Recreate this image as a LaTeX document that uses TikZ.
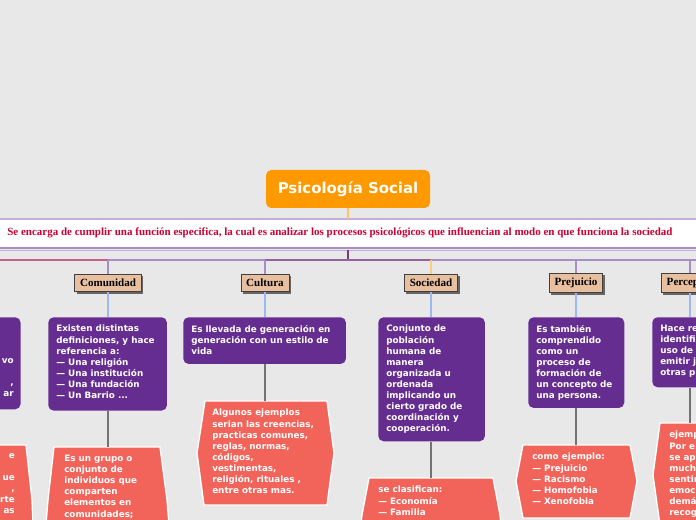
\documentclass[tikz,border=0pt]{standalone}
\usepackage{fontspec}
\setmainfont{DejaVu Sans}
\newfontfamily\serifb{Liberation Serif}
\usetikzlibrary{shadows}
\definecolor{bg}{HTML}{E8E8E8}
\definecolor{orng}{HTML}{FF9900}
\definecolor{purp}{HTML}{662D91}
\definecolor{coral}{HTML}{F2635A}
\definecolor{tan}{HTML}{E8C0A0}
\definecolor{lav}{HTML}{A88CC8}
\definecolor{lblue}{HTML}{9DB8F2}
\definecolor{dred}{HTML}{CC0033}
\definecolor{dpurp}{HTML}{7A3A80}
\tikzset{
 x=0.75pt,y=-0.75pt,
 pbox/.style={draw=none,fill=purp,rounded corners=4pt,anchor=north west,inner sep=0pt},
 ptext/.style={anchor=north west,inner sep=0pt,align=left,text=white,font=\fontsize{6.6}{8.3}\selectfont\bfseries},
 topic/.style={draw=black!75,fill=tan,line width=0.6pt,inner xsep=4pt,inner ysep=3.6pt,font=\serifb\fontsize{8.3}{9}\selectfont\bfseries,drop shadow={shadow xshift=1.5pt,shadow yshift=-1.5pt,fill=black!60,opacity=1}},
 hex/.style={fill=coral,draw=white,line width=1pt},
 stem/.style={line width=0.8pt,lblue},
 gstem/.style={line width=1pt,black!55},
}
\begin{document}
\begin{tikzpicture}
\fill[bg] (0,0) rectangle (696,520);
\useasboundingbox (0,0) rectangle (696,520);
\clip (0,0) rectangle (696,520);
% root
\node[fill=orng,rounded corners=4pt,minimum width=123pt,minimum height=28.5pt,text=white,font=\fontsize{11.2}{12}\selectfont\bfseries] (root) at (348,189) {Psicología Social};
% description band
\fill[white] (-5,219) rectangle (705,248);
\draw[lav!70,line width=0.8pt] (-5,219) -- (705,219);
\draw[lav,line width=0.8pt] (-5,248) -- (705,248);
\draw[lav!70,line width=0.6pt] (-5,250.5) -- (705,250.5);
\node[anchor=west,inner sep=0pt,text=dred] (desc) at (7,233) {\resizebox{499pt}{!}{\serifb\fontsize{7}{8}\selectfont\bfseries Se encarga de cumplir una función especifica, la cual es analizar los procesos psicológicos que influencian al modo en que funciona la sociedad}};
\coordinate (dtop) at (348,219);
\coordinate (dbot) at (348,250.5);
\coordinate (hub) at (348,260);
\draw[orng!60,line width=0.8pt] (root.south) -- (dtop);
\draw[dpurp,line width=1.2pt] (dbot) -- (hub);
% horizontal bus
\draw[red!30!lav,line width=1pt] (-5,260) -- (108,260);
\draw[lav,line width=1pt] (108,260) -- (705,260);
\draw[dpurp!80,line width=1.2pt] (265,260) -- (431,260);
% topics
\node[topic] (t1) at (108,283) {Comunidad};
\node[topic] (t2) at (265,283) {Cultura};
\node[topic] (t3) at (431,283) {Sociedad};
\node[topic] (t4) at (576,283) {Prejuicio};
\node[topic,anchor=west] (t5) at (661,283) {Percepción};
\draw[lav,line width=0.8pt] (108,260) -- (t1.north);
\draw[lav,line width=0.8pt] (265,260) -- (t2.north);
\draw[orng!50,line width=0.8pt] (431,260) -- (t3.north);
\draw[lav,line width=0.8pt] (576,260) -- (t4.north);
\draw[lav,line width=0.8pt] (690,260) -- (t5.north -| 690,0);
% purple boxes
\node[pbox,minimum width=89pt,minimum height=70pt] (p1) at (48,317) {};
\node[pbox,minimum width=122pt,minimum height=35pt] (p2) at (183,317) {};
\node[pbox,minimum width=80pt,minimum height=93pt] (p3) at (378,317) {};
\node[pbox,minimum width=72pt,minimum height=68pt] (p4) at (528,317) {};
\node[pbox,minimum width=60pt,minimum height=52.5pt] (p5) at (652,317) {};
\node[pbox,minimum width=40pt,minimum height=69pt] (p0) at (-33,317) {};
\node[ptext] at (56,325) {Existen distintas\\definiciones, y hace\\referencia a:\\— Una religión\\— Una institución\\— Una fundación\\— Un Barrio ...};
\node[ptext] at (191,325) {Es llevada de generación en\\generación con un estilo de\\vida};
\node[ptext] at (386,325) {Conjunto de\\población\\humana de\\manera\\organizada u\\ordenada\\implicando un\\cierto grado de\\coordinación y\\cooperación.};
\node[ptext] at (536,325) {Es también\\comprendido\\como un\\proceso de\\formación de\\un concepto de\\una persona.};
\node[ptext] at (660,325) {Hace re\\identifi\\uso de\\emitir j\\otras p};
\node[ptext,anchor=north east,align=right] at (14,358) {vo\\\\,\\ar};
\foreach \a/\b in {t1/p1,t2/p2,t3/p3,t4/p4} \draw[stem] (\a.south) -- (\b.north -| \a.south);
\draw[stem] (t5.south -| 690,0) -- (p5.north -| 690,0);
% coral hexes
\draw[hex] (54,447) -- (160,447) -- (167,500) -- (169,525) -- (46,525) -- (48,500) -- cycle;
\coordinate (c1) at (108,447);
\draw[hex] (205,401) -- (327,401) -- (334,453) -- (327,505) -- (204,505) -- (197,453) -- cycle;
\coordinate (c2) at (265,401);
\draw[hex] (369,478) -- (493,478) -- (500,515) -- (501,525) -- (361,525) -- (362,515) -- cycle;
\coordinate (c3) at (431,478);
\draw[hex] (523,445) -- (630,445) -- (637,481) -- (630,518) -- (523,518) -- (516,481) -- cycle;
\coordinate (c4) at (576,445);
\draw[hex] (660,423) -- (720,423) -- (720,525) -- (660,525) -- (653,475) -- cycle;
\coordinate (c5) at (690,423);
\draw[hex] (-20,445) -- (26,445) -- (32,500) -- (33,525) -- (-20,525) -- cycle;
\draw[gstem] (p1.south -| c1) -- (c1);
\draw[gstem] (p2.south -| c2) -- (c2);
\draw[gstem] (p3.south -| c3) -- (c3);
\draw[gstem] (p4.south -| c4) -- (c4);
\draw[gstem] (p5.south -| c5) -- (c5);
\node[ptext] at (64,455) {Es un grupo o\\conjunto de\\individuos que\\comparten\\elementos en\\comunidades;};
\node[ptext] at (212,409) {Algunos ejemplos\\serian las creencias,\\practicas comunes,\\reglas, normas,\\códigos,\\vestimentas,\\religión, rituales ,\\entre otras mas.};
\node[ptext] at (378,486) {se clasifican:\\— Economía\\— Familia};
\node[ptext] at (532,453) {como ejemplo:\\— Prejuicio\\— Racismo\\— Homofobia\\— Xenofobia};
\node[ptext] at (669,431) {ejemp\\Por e\\se ap\\much\\sentim\\emoc\\demá\\recog};
\node[ptext,anchor=north east,align=right] at (15,453) {e\\\\ue\\,\\rte\\as};
\end{tikzpicture}
\end{document}
